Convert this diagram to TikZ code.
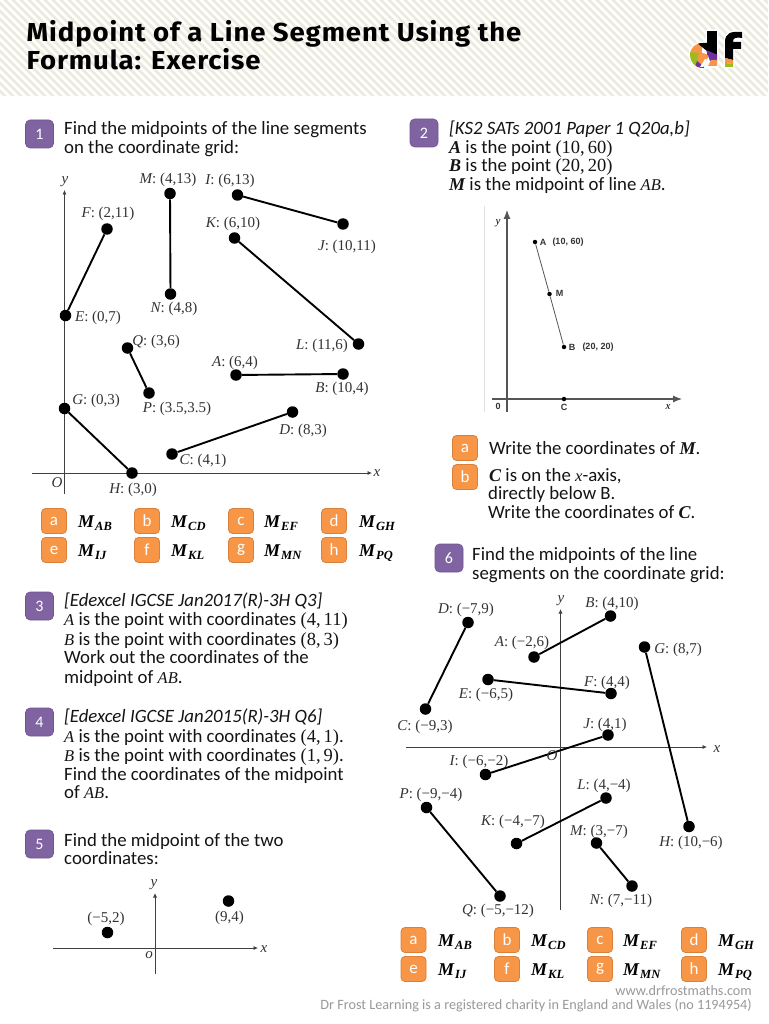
\documentclass[tikz,border=0pt]{standalone}
\usepackage{fontspec}
\setmainfont{Carlito}
\newfontfamily\serifm{Liberation Serif}
\newfontfamily\titlef{Fira Sans}[BoldFont={Fira Sans Bold},BoldFeatures={FakeStretch=1.06,LetterSpace=3.4}]
\newfontfamily\arialf{Liberation Sans}
\definecolor{purp}{HTML}{8064A2}
\definecolor{purpd}{HTML}{6E5590}
\definecolor{orng}{HTML}{F79646}
\definecolor{orngd}{HTML}{D9803A}
\definecolor{stripe}{HTML}{ECEADD}
\definecolor{footg}{HTML}{999999}
\definecolor{axg}{HTML}{555555}
\definecolor{lgreen}{HTML}{9BBB1F}
\definecolor{lpurp}{HTML}{7030A0}
\newcommand{\mv}[1]{{\serifm\itshape #1}}
\newcommand{\bv}[1]{{\serifm\itshape\fontsize{16.5}{18}\selectfont #1}}
\newcommand{\mb}[1]{{\serifm\itshape\bfseries\fontsize{18}{18}\selectfont #1}}
\newcommand{\cc}[1]{{\serifm\fontsize{18.5}{18}\selectfont #1}}
\newcommand{\lb}[2]{{\serifm\itshape #1}{\serifm: #2}}
\newcommand{\mm}{\char"2212 }
\newcommand{\msub}[2]{{\serifm\itshape\bfseries\fontsize{18}{18}\selectfont #1\raisebox{-3.3pt}{\kern1pt\fontsize{12.5}{12.5}\selectfont #2}}}
\usetikzlibrary{arrows.meta}
\tikzset{
  qbadge/.style={fill=purp,draw=purpd,line width=.6pt,rounded corners=4.5pt,minimum width=28pt,minimum height=28pt,inner sep=0pt,text=white,font=\fontsize{16}{16}\selectfont},
  obadge/.style={fill=orng,draw=orngd,line width=.8pt,rounded corners=4pt,minimum width=25pt,minimum height=25pt,inner sep=0pt,text=white,font=\fontsize{17}{17}\selectfont},
  body/.style={anchor=base west,yshift=-6.5pt,inner sep=0pt,font=\fontsize{18.8}{19}\selectfont,text=black!92},
  coord/.style={inner sep=0pt,yshift=-1.5pt,font=\fontsize{15}{15}\selectfont,text=black!80},
  pt/.style={circle,fill=black,inner sep=0pt,minimum size=11.5pt},
  smallpt/.style={circle,fill=black,inner sep=0pt,minimum size=4.5pt},
  seg/.style={line width=1.9pt,black},
  axis/.style={line width=.7pt,black!75,-{Latex[length=4.5pt,width=4pt]}},
  axis2/.style={line width=1.1pt,axg,-{Latex[length=9pt,width=7pt]}},
  minilab/.style={inner sep=0pt,font=\arialf\bfseries\fontsize{9}{9}\selectfont,text=black!80},
  mlab/.style={anchor=base west,yshift=-5pt,inner sep=0pt},
  titleline/.style={anchor=base west,yshift=-2pt,inner sep=0pt,font=\titlef\bfseries\fontsize{26}{27}\selectfont},
  footer/.style={anchor=base east,yshift=-1pt,inner sep=0pt,text=footg,font=\fontsize{14.2}{15}\selectfont}
}
\begin{document}
\begin{tikzpicture}[x=1pt,y=-1pt]
\useasboundingbox (0,0) rectangle (768,1024);
\fill[white] (0,0) rectangle (768,1024);
% header stripes
\begin{scope}
\clip (0,0) rectangle (768,96);
\foreach \i in {-14,...,98}{
  \draw[stripe,line width=2.6pt] (8*\i,-5) -- (8*\i+106,101);
}
\end{scope}
\node[titleline] (t1) at (26.5,39.5) {Midpoint of a Line Segment Using the};
\node[titleline] (t2) at (26.5,68) {Formula: Exercise};
% logo
\begin{scope}
\draw[white,line width=3pt,fill=white,line join=round] (707,31) -- (717,31) -- (717,66) -- (703,68) .. controls (695,68) and (690,62) .. (690,55) .. controls (690,48) and (695,43) .. (703,43) -- (707,43) -- cycle;
\draw[white,line width=3pt,fill=white,line join=round] (725,42) .. controls (725,33) and (731,31) .. (742,32) -- (742,38) -- (733,42) -- (741,42) -- (741,49) -- (733,49) -- (733,67) -- (725,67) -- cycle;
\fill[black] (707,31) rectangle (717,56);
\fill[black] (725,42) .. controls (725,33) and (731,31) .. (742,32) -- (742,38) .. controls (735,37) and (733,38) .. (733,42) -- (741,42) -- (741,49) -- (733,49) -- (733,60) -- (725,58) -- cycle;
\begin{scope}
\clip (703,68) .. controls (695,68) and (690,62) .. (690,55.5) .. controls (690,48) and (695,43) .. (703,43) -- (707,43) -- (717,50) -- (717,66) -- cycle;
\fill[orng] (688,42) -- (702,42) -- (702,53) -- (688,53) -- cycle;
\fill[black] (696,42) -- (708,42) -- (708,52) -- cycle;
\fill[lgreen] (688,52) -- (699,53) -- (697,69) -- (688,69) -- cycle;
\fill[orng] (699,52) -- (709,55) -- (704,66) -- (697,62) -- cycle;
\fill[lpurp] (697,61) -- (703,66) -- (706,70) -- (694,70) -- cycle;
\fill[lpurp] (706,50) -- (718,55) -- (718,61) -- (710,61) -- cycle;
\fill[white] (705,59) -- (708,60) -- (703,67) -- (700,67) -- cycle;
\fill[orng] (711,60) -- (717,60) -- (717,66) -- (708,66) -- cycle;
\end{scope}
\fill[orng] (725,58) -- (733,60) -- (733,64) -- (725,63) -- cycle;
\fill[lgreen] (725,63) -- (733,64) -- (733,67) -- (725,67) -- cycle;
\end{scope}
% Q1
\node[qbadge] (q1) at (39.5,134) {1};
\node[body] (q1a) at (64,128) {Find the midpoints of the line segments};
\node[body] (q1b) at (64,147) {on the coordinate grid:};
\coordinate (ax1b) at (64.5,494); \coordinate (ax1t) at (64.5,190);
\coordinate (ax1l) at (32,473); \coordinate (ax1r) at (372,473);
\draw[axis] (ax1b) -- (ax1t);
\draw[axis] (ax1l) -- (ax1r);
\node[coord] (l1y) at (65,180) {\mv{y}};
\node[coord] (l1x) at (377,472) {\mv{x}};
\node[coord] (l1o) at (57,481) {\mv{O}};
\foreach \n/\x/\y in {M/170/193.5,N/170.5/294,I/237.5/195,J/343/224,F/107/229,E/65.5/315.5,K/234.5/238,L/358.5/344,Q/127.5/348,P/149/393,A/236/375,B/343/374,G/64.5/408.5,H/132/473,C/172/454,D/292.5/412}
  \node[pt] (p\n) at (\x,\y) {};
\foreach \a/\b in {M/N,I/J,F/E,K/L,Q/P,A/B,G/H,C/D}
  \draw[seg] (p\a) -- (p\b);
\foreach \n/\x/\y/\t in {M/168/178/{(4,13)},I/230/179.5/{(6,13)},F/108/212/{(2,11)},J/347/245/{(10,11)},K/233/222/{(6,10)},N/174/307/{(4,8)},E/98/316/{(0,7)},Q/156/340/{(3,6)},L/322/344/{(11,6)},A/235/361/{(6,4)},B/342/387/{(10,4)},G/96/399/{(0,3)},P/177/407/{(3.5,3.5)},D/303/429/{(8,3)},C/203/459/{(4,1)},H/133/488/{(3,0)}}
  \node[coord] (t\n) at (\x,\y) {\lb{\n}{\t}};
\foreach \b/\x/\y/\lx/\s in {a/54/521/78/AB,b/147/521/171/CD,c/241/521/264/EF,d/334/521/359/GH,e/54/550/78/IJ,f/147/550/171/KL,g/241/550/264/MN,h/334/550/359/PQ}{
  \node[obadge] (o1\b) at (\x,\y) {\b};
  \node[mlab] (m1\b) at (\lx,\y+1) {\msub{M}{\s}};
}
% Q2
\node[qbadge] (q2) at (424,133) {2};
\node[body] (q2a) at (449,128) {\itshape [KS2 SATs 2001 Paper 1 Q20a,b]};
\node[body] (q2b) at (449,147) {\mb{A} is the point \cc{(10,\kern3pt60)}};
\node[body] (q2c) at (449,165.5) {\mb{B} is the point \cc{(20,\kern3pt20)}};
\node[body] (q2d) at (449,184.5) {\mb{M} is the midpoint of line \bv{AB}.};
\coordinate (edge2a) at (484.5,206); \coordinate (edge2b) at (484.5,412);
\draw[black!12,line width=.5pt] (edge2a) -- (edge2b);
\coordinate (ax2b) at (507,412); \coordinate (ax2t) at (507,210);
\coordinate (ax2l) at (492,399); \coordinate (ax2r) at (682,399);
\draw[axis2] (ax2b) -- (ax2t);
\draw[axis2] (ax2l) -- (ax2r);
\foreach \n/\x/\y in {A/535/242,M/549.5/294,B/564/347,C/564/399}
  \node[smallpt] (s\n) at (\x,\y) {};
\draw[axg,line width=.8pt] (sA) -- (sM) -- (sB);
\node[minilab] (s1) at (543,242) {A};
\node[minilab] (s2) at (568,242) {(10, 60)};
\node[minilab] (s3) at (559.5,293.5) {M};
\node[minilab] (s4) at (572,347) {B};
\node[minilab] (s5) at (598,347) {(20, 20)};
\node[minilab] (s6) at (564,407) {C};
\node[minilab] (s7) at (498,406) {0};
\node[inner sep=0pt,font=\serifm\itshape\fontsize{11}{11}\selectfont] (s8) at (668,407) {x};
\node[inner sep=0pt,font=\serifm\itshape\fontsize{11}{11}\selectfont] (s9) at (498,223) {y};
\node[obadge] (o2a) at (465,448) {a};
\node[obadge] (o2b) at (465,477) {b};
\node[body] (b2a) at (489,448) {Write the coordinates of \mb{M}.};
\node[body] (b2b) at (489,475) {\mb{C} is on the \bv{x}-axis,};
\node[body] (b2c) at (488,493) {directly below B.};
\node[body] (b2d) at (488,512) {Write the coordinates of \mb{C}.};
% Q3
\node[qbadge] (q3) at (39.5,606) {3};
\node[body] (q3a) at (64,600) {\itshape [Edexcel IGCSE Jan2017(R)-3H Q3]};
\node[body] (q3b) at (64,619) {\bv{A} is the point with coordinates \cc{(4,\kern3pt11)}};
\node[body] (q3c) at (64,639) {\bv{B} is the point with coordinates \cc{(8,\kern3pt3)}};
\node[body] (q3d) at (64,657) {Work out the coordinates of the};
\node[body] (q3e) at (64,677) {midpoint of \bv{AB}.};
% Q4
\node[qbadge] (q4) at (39.5,722) {4};
\node[body] (q4a) at (64,716) {\itshape [Edexcel IGCSE Jan2015(R)-3H Q6]};
\node[body] (q4b) at (64,736) {\bv{A} is the point with coordinates \cc{(4,\kern3pt1)}.};
\node[body] (q4c) at (64,754.5) {\bv{B} is the point with coordinates \cc{(1,\kern3pt9)}.};
\node[body] (q4d) at (64,774) {Find the coordinates of the midpoint};
\node[body] (q4e) at (64,792) {of \bv{AB}.};
% Q5
\node[qbadge] (q5) at (39.5,844) {5};
\node[body] (q5a) at (64,840) {Find the midpoint of the two};
\node[body] (q5b) at (64,858) {coordinates:};
\coordinate (ax5b) at (155,974); \coordinate (ax5t) at (155,893);
\coordinate (ax5l) at (53,948); \coordinate (ax5r) at (258,948);
\draw[axis] (ax5b) -- (ax5t);
\draw[axis] (ax5l) -- (ax5r);
\node[pt] (p5a) at (107.5,932.5) {};
\node[pt] (p5b) at (228.5,901) {};
\node[coord] (t5a) at (106,917) {\serifm(\mm5,2)};
\node[coord] (t5b) at (229.5,916) {\serifm(9,4)};
\node[coord] (t5x) at (264,948) {\mv{x}};
\node[coord] (t5y) at (154,883) {\mv{y}};
\node[coord] (t5o) at (149,954) {\mv{o}};
% Q6
\node[qbadge] (q6) at (449,558) {6};
\node[body] (q6a) at (472,554) {Find the midpoints of the line};
\node[body] (q6b) at (472,573) {segments on the coordinate grid:};
\coordinate (ax6b) at (560.5,910); \coordinate (ax6t) at (560.5,609);
\coordinate (ax6l) at (406,747); \coordinate (ax6r) at (707,747);
\draw[axis] (ax6b) -- (ax6t);
\draw[axis] (ax6l) -- (ax6r);
\foreach \n/\x/\y in {D/468/622.5,C/425.5/709,B/610.5/616,A/534/657,G/644.5/647,H/689/826.5,E/488/679.5,F/611/693.5,J/608/735,I/485.5/774.5,L/606/798,K/516.5/843.5,P/426.5/807.5,Q/500/896,M/596.5/843,N/632/886}
  \node[pt] (r\n) at (\x,\y) {};
\foreach \a/\b in {D/C,B/A,G/H,E/F,J/I,L/K,P/Q,M/N}
  \draw[seg] (r\a) -- (r\b);
\foreach \n/\x/\y/\t in {D/466/608/{(\mm7,9)},B/612/602/{(4,10)},A/522/641/{(\mm2,6)},G/678/648/{(8,7)},F/607/681/{(4,4)},E/486/693/{(\mm6,5)},C/425/725/{(\mm9,3)},J/605/723/{(4,1)},I/479/760/{(\mm6,\mm2)},L/604/784/{(4,\mm4)},P/431/793/{(\mm9,\mm4)},K/513/820/{(\mm4,\mm7)},M/599/830/{(3,\mm7)},H/691/841/{(10,\mm6)},N/621/899/{(7,\mm11)},Q/498/909/{(\mm5,\mm12)}}
  \node[coord] (u\n) at (\x,\y) {\lb{\n}{\t}};
\node[coord] (l6y) at (561,599) {\mv{y}};
\node[coord] (l6x) at (717,748) {\mv{x}};
\node[coord] (l6o) at (552,754) {\mv{O}};
\foreach \b/\x/\y/\lx/\s in {a/413.5/940/438/AB,b/507/940/531/CD,c/600/940/623/EF,d/694/940/718/GH,e/413.5/969/438/IJ,f/507/969/531/KL,g/600/969/623/MN,h/694/969/718/PQ}{
  \node[obadge] (o6\b) at (\x,\y) {\b};
  \node[mlab] (m6\b) at (\lx,\y+1) {\msub{M}{\s}};
}
% footer
\node[footer] (f1) at (752,994) {www.drfrostmaths.com};
\node[footer] (f2) at (752,1008) {Dr Frost Learning is a registered charity in England and Wales (no 1194954)};
\end{tikzpicture}
\end{document}
